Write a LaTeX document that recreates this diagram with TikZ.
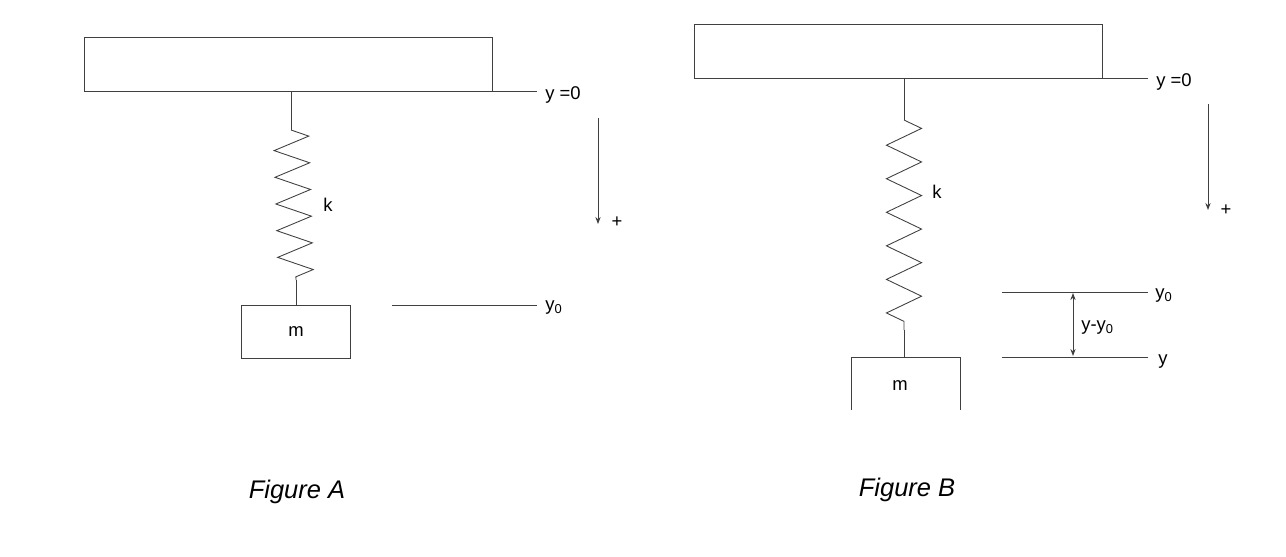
\documentclass[tikz,border=0pt]{standalone}
\usepackage{fontspec}
\setmainfont{Liberation Sans}
\usetikzlibrary{decorations.pathmorphing,arrows.meta}
\begin{document}
\begin{tikzpicture}[x=0.02cm,y=-0.02cm,
  thin line/.style={draw=black!75,line width=0.5pt},
  lbl/.style={font=\fontsize{10.5}{13}\selectfont,inner sep=0pt},
  figcap/.style={font=\itshape\fontsize{14.5}{18}\selectfont},
  springzz/.style={thin line,decorate,decoration={zigzag,segment length=15.2pt,amplitude=10pt}},
  arr/.style={thin line,-{Stealth[length=4pt,width=3pt]}}]
\useasboundingbox (0,0) rectangle (1286,556);
% Figure A
\node[draw=black!75,line width=0.5pt,minimum width=408*0.02cm,minimum height=54*0.02cm,inner sep=0,anchor=north west] (ceilA) at (84,37) {};
\coordinate (sa0) at (291,91); \coordinate (sa1) at (291,130);
\coordinate (sa2) at (296,280); \coordinate (sa3) at (296,305);
\draw[thin line] (sa0)--(sa1);
\draw[springzz] (sa1)--(sa2);
\draw[thin line] (sa2)--(sa3);
\node[draw=black!75,line width=0.5pt,minimum width=109*0.02cm,minimum height=53*0.02cm,inner sep=0,anchor=north west,lbl] (mA) at (241,305) {};
\node[lbl] at (mA.center) {m};
\node[lbl] (kA) at (328,205) {k};
\coordinate (ya1) at (392,91); \coordinate (ya2) at (537,91);
\draw[thin line] (ya1)--(ya2);
\node[lbl,anchor=west] (y0A) at (545,95) {y =0};
\coordinate (aa1) at (598,118); \coordinate (aa2) at (598,224);
\draw[arr] (aa1)--(aa2);
\node[lbl] (plA) at (617,222) {+};
\coordinate (yb1) at (392,305); \coordinate (yb2) at (537,305);
\draw[thin line] (yb1)--(yb2);
\node[lbl,anchor=west] (ylA) at (545,308) {y\textsubscript{0}};
\node[figcap] (capA) at (297,492) {Figure A};
% Figure B
\node[draw=black!75,line width=0.5pt,minimum width=408*0.02cm,minimum height=54*0.02cm,inner sep=0,anchor=north west] (ceilB) at (694,24) {};
\coordinate (sb0) at (904,78); \coordinate (sb1) at (904,120);
\coordinate (sb2) at (904,330); \coordinate (sb3) at (904,357);
\draw[thin line] (sb0)--(sb1);
\draw[springzz,decoration={segment length=19.1pt,amplitude=10pt}] (sb1)--(sb2);
\draw[thin line] (sb2)--(sb3);
\coordinate (mb1) at (851,410); \coordinate (mb2) at (851,357);
\coordinate (mb3) at (960,357); \coordinate (mb4) at (960,410);
\draw[thin line] (mb1)--(mb2)--(mb3)--(mb4);
\node[lbl] (mB) at (900,386) {m};
\node[lbl] (kB) at (937,192) {k};
\coordinate (yc1) at (1002,78); \coordinate (yc2) at (1148,78);
\draw[thin line] (yc1)--(yc2);
\node[lbl,anchor=west] (y0B) at (1156,82) {y =0};
\coordinate (ab1) at (1208,104); \coordinate (ab2) at (1208,210);
\draw[arr] (ab1)--(ab2);
\node[lbl] (plB) at (1226,210) {+};
\coordinate (yd1) at (1002,292); \coordinate (yd2) at (1148,292);
\draw[thin line] (yd1)--(yd2);
\node[lbl,anchor=west] (ylB) at (1155,296) {y\textsubscript{0}};
\coordinate (ye1) at (1002,357); \coordinate (ye2) at (1148,357);
\draw[thin line] (ye1)--(ye2);
\node[lbl,anchor=west] (yB) at (1158,362) {y};
\coordinate (d1) at (1073,293); \coordinate (d2) at (1073,356);
\draw[thin line,{Stealth[length=4pt,width=3pt]}-{Stealth[length=4pt,width=3pt]}] (d1)--(d2);
\node[lbl,anchor=west] (dd) at (1081,328) {y-y\textsubscript{0}};
\node[figcap] (capB) at (907,490) {Figure B};
\end{tikzpicture}
\end{document}
